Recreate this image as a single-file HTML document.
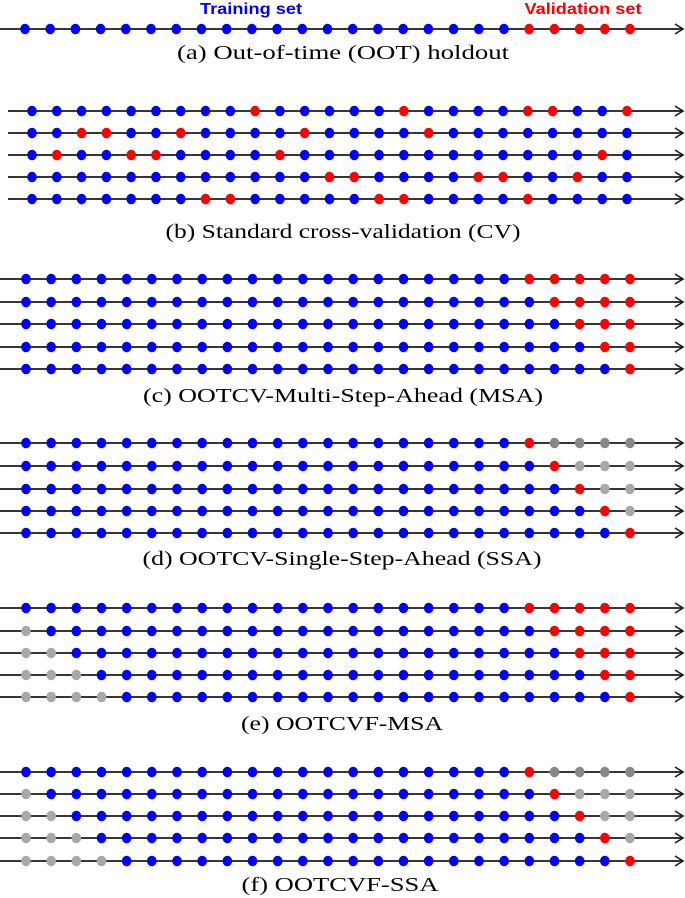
<!DOCTYPE html>
<html><head><meta charset="utf-8"><style>
body{margin:0;background:#fff}
svg{display:block}
.cap{font-family:"Liberation Serif",serif;font-size:20px;fill:#000}
.hdr{font-family:"Liberation Sans",sans-serif;font-weight:bold;font-size:16px}
</style></head><body>
<svg id="fig" width="685" height="898" viewBox="0 0 685 898">
<text class="hdr" x="251" y="14" text-anchor="middle" fill="#0000ff" textLength="102" lengthAdjust="spacingAndGlyphs">Training set</text>
<text class="hdr" x="583" y="14" text-anchor="middle" fill="#ff0000" textLength="117" lengthAdjust="spacingAndGlyphs">Validation set</text>
</svg>
<script>
// B = training, R = validation, G = unused (light gray), D = unused (dark gray)
const panelA = ["BBBBBBBBBBBBBBBBBBBBRRRRR"];
const panelB = [
 "BBBBBBBBBRBBBBBRBBBBRRBBR",
 "BBRRBBRBBBBRBBBBRBBBBBBBB",
 "BRBBRRBBBBRBBBBBBBBBBBBRB",
 "BBBBBBBBBBBBRRBBBBRRBBRBB",
 "BBBBBBBRRBBBBBRRBBBBRBBBB"];
const panelC = [
 "BBBBBBBBBBBBBBBBBBBBRRRRR",
 "BBBBBBBBBBBBBBBBBBBBBRRRR",
 "BBBBBBBBBBBBBBBBBBBBBBRRR",
 "BBBBBBBBBBBBBBBBBBBBBBBRR",
 "BBBBBBBBBBBBBBBBBBBBBBBBR"];
const panelD = [
 "BBBBBBBBBBBBBBBBBBBBRDDDD",
 "BBBBBBBBBBBBBBBBBBBBBRGGG",
 "BBBBBBBBBBBBBBBBBBBBBBRGG",
 "BBBBBBBBBBBBBBBBBBBBBBBRG",
 "BBBBBBBBBBBBBBBBBBBBBBBBR"];
const panelE = [
 "BBBBBBBBBBBBBBBBBBBBRRRRR",
 "GBBBBBBBBBBBBBBBBBBBBRRRR",
 "GGBBBBBBBBBBBBBBBBBBBBRRR",
 "GGGBBBBBBBBBBBBBBBBBBBBRR",
 "GGGGBBBBBBBBBBBBBBBBBBBBR"];
const panelF = [
 "BBBBBBBBBBBBBBBBBBBBRDDDD",
 "GBBBBBBBBBBBBBBBBBBBBRGGG",
 "GGBBBBBBBBBBBBBBBBBBBBRGG",
 "GGGBBBBBBBBBBBBBBBBBBBBRG",
 "GGGGBBBBBBBBBBBBBBBBBBBBR"];
const captions = ["(a) Out-of-time (OOT) holdout","(b) Standard cross-validation (CV)","(c) OOTCV-Multi-Step-Ahead (MSA)","(d) OOTCV-Single-Step-Ahead (SSA)","(e) OOTCVF-MSA","(f) OOTCVF-SSA"];

const layout = [
 {rows:panelA, ys:[29], x0:25, x1:630, lx:0, cy:59, cx:343, cw:332},
 {rows:panelB, ys:[111,133,155,177,199], x0:32, x1:627, lx:8, cy:238, cx:343, cw:355},
 {rows:panelC, ys:[279,302,324,347,369], x0:26, x1:630, lx:0, cy:402, cx:343, cw:400},
 {rows:panelD, ys:[443,466,489,511,533], x0:26, x1:630, lx:0, cy:565, cx:342, cw:399},
 {rows:panelE, ys:[608,631,653,675,697], x0:26, x1:630, lx:0, cy:730, cx:342, cw:202},
 {rows:panelF, ys:[772,794,816,838,861], x0:26, x1:630, lx:0, cy:891, cx:340, cw:197}];
const colors = {B:"#0000ff", R:"#ff0000", G:"#a8a8a8", D:"#888888"};
const svg = document.getElementById('fig');
const NS = "http://www.w3.org/2000/svg";
function mk(t, a){const e=document.createElementNS(NS,t);for(const k in a)e.setAttribute(k,a[k]);svg.appendChild(e);return e;}
const letters="abcdef";
layout.forEach((p,pi)=>{
  p.rows.forEach((row,ri)=>{
    const y=p.ys[ri];
    const ln=mk('line',{x1:p.lx,y1:y,x2:683,y2:y,stroke:"#1a1a1a","stroke-width":1.8});
    
    
    const ah=mk('polyline',{points:`675,${y-5} 683,${y} 675,${y+5}`,fill:"none",stroke:"#1a1a1a","stroke-width":1.6});
    
    
    const n=row.length, step=(p.x1-p.x0)/(n-1);
    [...row].forEach((c,i)=>{
      const d=mk('ellipse',{cx:p.x0+i*step,cy:y,rx:4.8,ry:5.3,fill:colors[c]});
      
      
    });
  });
  const t=mk('text',{x:p.cx,y:p.cy,"text-anchor":"middle",class:"cap",textLength:p.cw,lengthAdjust:"spacingAndGlyphs"});
  t.textContent=captions[pi];
  
  
});
</script>
</body></html>
